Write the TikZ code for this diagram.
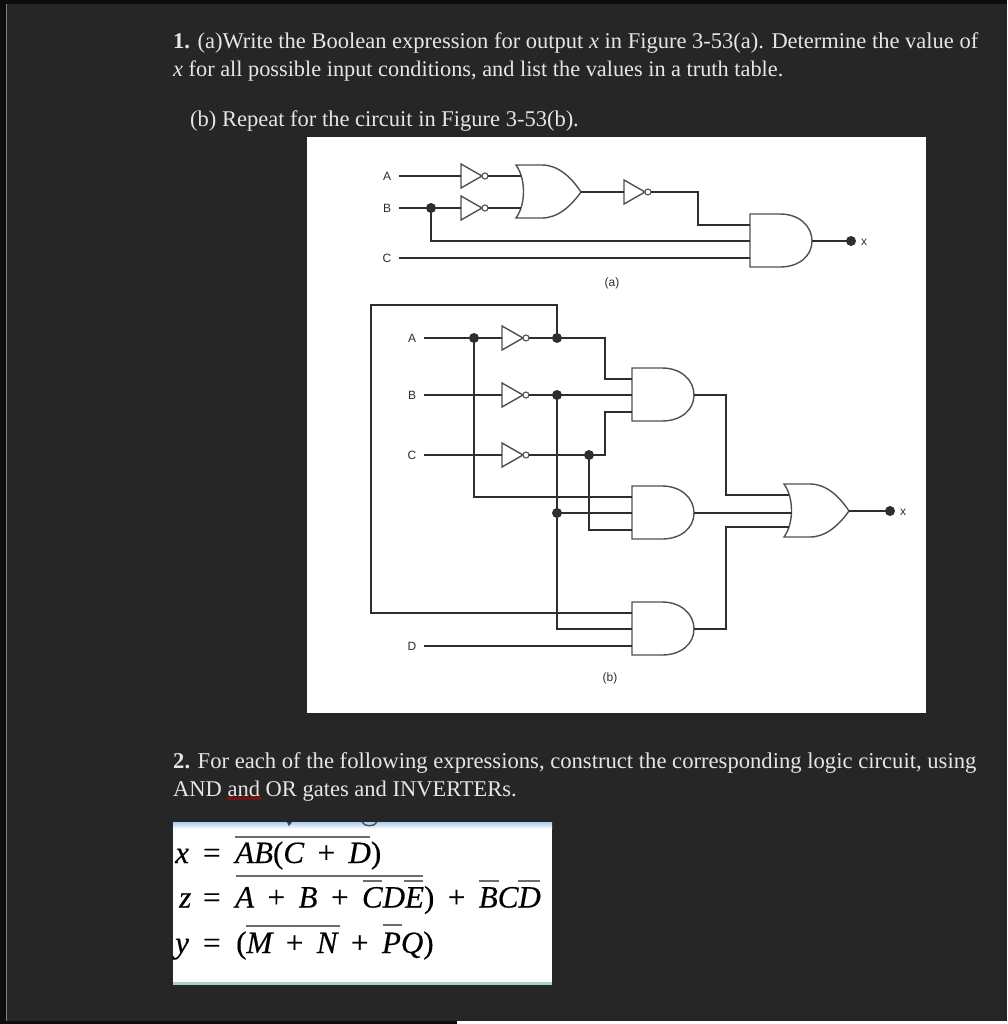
\documentclass[tikz,border=0pt]{standalone}
\usepackage{fontspec}
\setmainfont{Liberation Serif}
\setsansfont{Liberation Sans}
\newfontface\eqit[FakeBold=0.35]{Liberation Serif Italic}
\newfontface\eqrm[FakeBold=0.35]{Liberation Serif}
\usetikzlibrary{decorations.pathmorphing}
\definecolor{pagebg}{HTML}{262626}
\definecolor{ink}{HTML}{E6E6E6}
\definecolor{wirecol}{HTML}{2E2E2E}
\definecolor{gatecol}{HTML}{505050}
\definecolor{eqtop}{HTML}{A9CFF0}
\definecolor{eqbottom}{HTML}{A9D3BB}
\newcommand{\eqplus}{\hspace{13.5pt}{\eqrm+}\hspace{13.5pt}}
\tikzset{
  x=1pt,y=-1pt,
  bodytext/.style={anchor=base west,inner sep=0pt,text=ink,font=\fontsize{22.5}{25}\selectfont},
  eqtext/.style={anchor=base west,inner sep=0pt,text=black,font=\fontsize{31}{33}\eqit},
  wire/.style={draw=wirecol,line width=1.8pt,line join=miter},
  gateline/.style={draw=gatecol,line width=1.4pt,fill=white,line join=miter},
  dotnode/.style={circle,fill=wirecol,inner sep=0pt,minimum size=10pt},
  inlabel/.style={inner sep=0pt,minimum width=24pt,text=wirecol,font=\sffamily\fontsize{12}{13}\selectfont},
  caplabel/.style={inner sep=0pt,text=wirecol,font=\sffamily\fontsize{12}{13}\selectfont},
  overbar/.style={draw=gray!85!black,line width=1.7pt},
  andgate/.pic={
    \path[gateline] (0,-27) -- (30,-27) .. controls (49,-27) and (62,-15) .. (62,0)
      .. controls (62,15) and (49,26) .. (30,26) -- (0,26) -- cycle;
    \coordinate (-in1) at (0,-16); \coordinate (-in2) at (0,0); \coordinate (-in3) at (0,17);
    \coordinate (-out) at (62,0);
  },
  orgate/.pic={
    \path[gateline] (0,-27) -- (26,-27) .. controls (42,-27) and (55,-15) .. (65,0)
      .. controls (55,14) and (42,26) .. (26,26) -- (0,26)
      .. controls (10,12) and (10,-13) .. (0,-27) -- cycle;
    \coordinate (-in1) at (5,-16); \coordinate (-in2) at (8,2); \coordinate (-in3) at (5,16);
    \coordinate (-out) at (65,0);
  },
  notgate/.pic={
    \path[gateline] (0,-12) -- (21,0) -- (0,12) -- cycle;
    \path[draw=gatecol,line width=1.1pt,fill=white] (24,0) circle[radius=3];
    \coordinate (-in) at (0,0); \coordinate (-out) at (27,0);
  }
}
\begin{document}
\begin{tikzpicture}
\useasboundingbox (0,0) rectangle (1007,1024);
% page
\fill[black!95] (0,0) rectangle (1007,1024);
\fill[pagebg] (7,4) rectangle (1007,1021);
\fill[gray] (6,4) rectangle (7,1021);
\fill[white] (457,1021) rectangle (1007,1024);
% text
\node[bodytext] (t1) at (173,49) {\textbf{1.} (a)Write the Boolean expression for output \textit{x} in Figure 3-53(a). Determine the value of};
\node[bodytext,font=\fontsize{22.3}{25}\selectfont] (t2) at (173,77) {\textit{x} for all possible input conditions, and list the values in a truth table.};
\node[bodytext] (t3) at (190,127) {(b) Repeat for the circuit in Figure 3-53(b).};
\node[bodytext,font=\fontsize{22.63}{25}\selectfont] (t4) at (173,768) {\textbf{2.} For each of the following expressions, construct the corresponding logic circuit, using};
\node[bodytext] (t5) at (173,796) {AND and OR gates and INVERTERs.};
\coordinate (spellL) at (227,798.5); \coordinate (spellR) at (262,798.5);
\draw[red!75!black,line width=0.8pt,decorate,decoration={zigzag,amplitude=1.3pt,segment length=4pt}] (spellL) -- (spellR);
% white figure
\fill[white] (307,137) rectangle (926,713);

% ---------- circuit (a)
\node[inlabel] (aA) at (387,176) {A};
\node[inlabel] (aB) at (387,208) {B};
\node[inlabel] (aC) at (387,258) {C};
\pic (ai1) at (461,176) {notgate};
\pic (ai2) at (461,208) {notgate};
\pic (aor) at (516,192) {orgate};
\pic (ai3) at (624,192) {notgate};
\pic (aand) at (750,241) {andgate};
\node[dotnode] (aBd) at (431,208) {};
\node[dotnode] (aXd) at (851,241) {};
\node[caplabel] (aX) at (864,242) {x};
\node[caplabel] (aCap) at (612,283) {(a)};
\coordinate (aBend) at (698,225);
\draw[wire] (aA.east) -- (ai1-in);
\draw[wire] (ai1-out) -- (aor-in1);
\draw[wire] (aB.east) -- (aBd.center) -- (ai2-in);
\draw[wire] (ai2-out) -- (aor-in3);
\draw[wire] (aor-out) -- (ai3-in);
\draw[wire] (ai3-out) -| (aBend) |- (aand-in1);
\draw[wire] (aBd.center) |- (aand-in2);
\draw[wire] (aC.east) -- (aand-in3);
\draw[wire] (aand-out) -- (aXd.center);

% ---------- circuit (b)
\node[inlabel] (bA) at (412,338) {A};
\node[inlabel] (bB) at (412,395) {B};
\node[inlabel] (bC) at (412,455) {C};
\node[inlabel] (bD) at (412,646) {D};
\pic (bi1) at (502,338) {notgate};
\pic (bi2) at (502,395) {notgate};
\pic (bi3) at (502,455) {notgate};
\pic (band1) at (632,395) {andgate};
\pic (band2) at (632,513) {andgate};
\pic (band3) at (632,629) {andgate};
\pic (bor) at (784,511) {orgate};
\node[dotnode] (bAd) at (474,338) {};
\node[dotnode] (bNA) at (557,338) {};
\node[dotnode] (bNB) at (557,395) {};
\node[dotnode] (bNC) at (589,455) {};
\node[dotnode] (bNBlow) at (557,513) {};
\node[dotnode] (bXd) at (890,511) {};
\node[caplabel] (bX) at (903,512) {x};
\node[caplabel] (bCap) at (610,678) {(b)};
\coordinate (loopTR) at (557,305);
\coordinate (loopTL) at (371,305);
\coordinate (bBendA) at (605,379);
\coordinate (bBendC) at (605,412);
\coordinate (bBendO1) at (726,495);
\coordinate (bBendO3) at (726,527);
\draw[wire] (bA.east) -- (bAd.center) -- (bi1-in);
\draw[wire] (bB.east) -- (bi2-in);
\draw[wire] (bC.east) -- (bi3-in);
\draw[wire] (bD.east) -- (band3-in3);
\draw[wire] (bi1-out) -- (bNA.center) -| (bBendA) |- (band1-in1);
\draw[wire] (bi2-out) -- (bNB.center) -- (band1-in2);
\draw[wire] (bi3-out) -- (bNC.center) -| (bBendC) |- (band1-in3);
\draw[wire] (bAd.center) |- (band2-in1);
\draw[wire] (bNBlow.center) -- (band2-in2);
\draw[wire] (bNC.center) |- (band2-in3);
\draw[wire] (bNB.center) -- (bNBlow.center) |- (band3-in2);
\draw[wire] (bNA.center) -- (loopTR) -- (loopTL) |- (band3-in1);
\draw[wire] (band1-out) -| (bBendO1) |- (bor-in1);
\draw[wire] (band2-out) -- (bor-in2);
\draw[wire] (band3-out) -| (bBendO3) |- (bor-in3);
\draw[wire] (bor-out) -- (bXd.center);

% ---------- equations image
\fill[white] (173,822) rectangle (552,985);
\shade[top color=eqtop,bottom color=white] (173,822) rectangle (552,829);
\fill[eqbottom] (173,981.7) rectangle (552,985);
\fill[black!75] (287,822) -- (292,822) -- (289,826) -- cycle;
\draw[black!70,line width=1.4pt] (362,822) .. controls (364,827) and (375,827) .. (377,822);
\node[eqtext] (e1) at (175,863) {\makebox[28pt][l]{x}{\eqrm=}\hspace{14.5pt}AB{\eqrm(}C\eqplus D{\eqrm)}};
\node[eqtext] (e2) at (175,907.5) {\makebox[28pt][l]{\hspace{4pt}z}{\eqrm=}\hspace{14.5pt}A\eqplus B\eqplus CDE{\eqrm)}\eqplus BCD};
\node[eqtext] (e3) at (175,953) {\makebox[28pt][l]{y}{\eqrm=}\hspace{15.5pt}{\eqrm(}M\eqplus N\eqplus PQ{\eqrm)}};
\draw[overbar] (235,837) -- (370,837);
\draw[overbar] (236,876) -- (423,876);
\draw[overbar] (363,881) -- (382,881);
\draw[overbar] (404,881) -- (423,881);
\draw[overbar] (479,881) -- (499,881);
\draw[overbar] (518,881) -- (540,881);
\draw[overbar] (246,926) -- (340,926);
\draw[overbar] (383,925) -- (402,925);
\end{tikzpicture}
\end{document}
